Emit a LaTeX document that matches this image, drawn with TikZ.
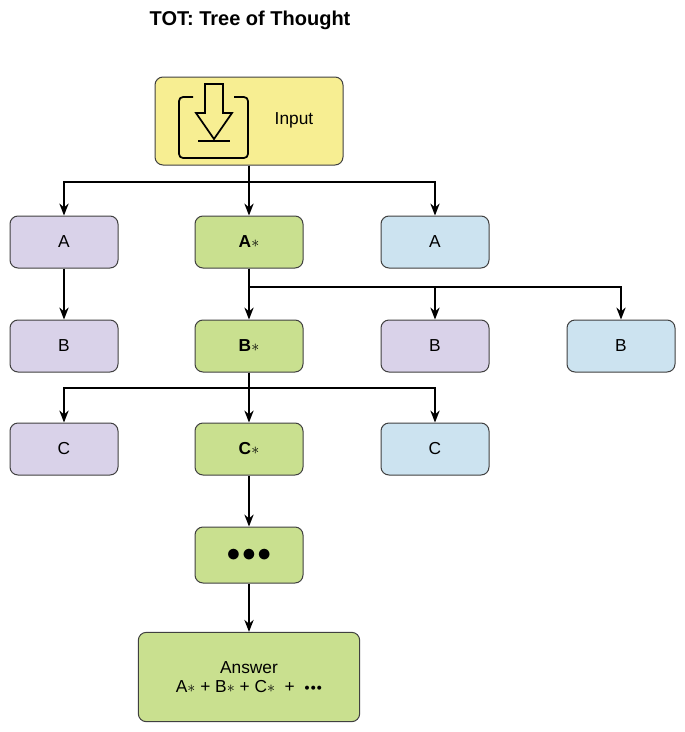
\documentclass[tikz,border=0pt]{standalone}
\usepackage{fontspec}
\setmainfont{Liberation Sans}
\usetikzlibrary{arrows.meta}
\definecolor{cyel}{RGB}{247,238,146}
\definecolor{cgrn}{RGB}{201,224,143}
\definecolor{cpur}{RGB}{217,210,233}
\definecolor{cblu}{RGB}{204,227,240}
\newcommand{\st}{\ensuremath{\ast}}
\tikzset{every picture/.style={line width=0.75pt}}
\tikzset{
  box/.style={draw=black!75, rounded corners=6pt, minimum width=81pt, minimum height=39pt, inner sep=0pt, font=\fontsize{13}{15}\selectfont},
  pur/.style={box, fill=cpur},
  grn/.style={box, fill=cgrn},
  blu/.style={box, fill=cblu},
  arr/.style={-{Stealth[length=9pt,width=7pt]}, line width=1pt}
}
\begin{document}
\begin{tikzpicture}[x=0.75pt,y=0.75pt,yscale=-1,xscale=1]
\useasboundingbox (0,0) rectangle (685,732);

% title
\node[font=\bfseries\fontsize{15}{17}\selectfont] (title) at (250,20) {TOT: Tree of Thought};

% input
\node[box, fill=cyel, minimum width=141pt, minimum height=66pt] (in) at (249,121) {};
\node[font=\fontsize{13}{15}\selectfont] (inlbl) at (294,120) {Input};
\draw[line width=1.3pt, rounded corners=3pt] (193,97) -- (179,97) -- (179,158) -- (248,158) -- (248,97) -- (234,97);
\draw[line width=1.3pt] (205,84) -- (223,84) -- (223,113) -- (232,113) -- (214,139) -- (196,113) -- (205,113) -- cycle;
\draw[line width=1.3pt] (198,141) -- (230,141);

% rows
\node[pur] (a1) at (64,242) {A};
\node[grn] (a2) at (249,242) {\textbf{A\st}};
\node[blu] (a3) at (435,242) {A};
\node[pur] (b1) at (64,346) {B};
\node[grn] (b2) at (249,346) {\textbf{B\st}};
\node[pur] (b3) at (435,346) {B};
\node[blu] (b4) at (621,346) {B};
\node[pur] (c1) at (64,449) {C};
\node[grn] (c2) at (249,449) {\textbf{C\st}};
\node[blu] (c3) at (435,449) {C};
\node[grn, minimum height=42pt] (dots) at (249,555) {\fontsize{20}{20}\selectfont$\bullet\!\bullet\!\bullet$};
\node[grn, minimum width=166pt, minimum height=67pt, align=center] (ans) at (249,677)
  {Answer\\[-1pt] A\st\ + B\st\ + C\st\ \ + \ \raisebox{1pt}{\scriptsize$\bullet\!\bullet\!\bullet$}};

% connectors
\draw[arr] (in) -- (a2);
\draw[arr] (in.south) -- (249,182) -| (a1);
\draw[arr] (in.south) -- (249,182) -| (a3);
\draw[arr] (a1) -- (b1);
\draw[arr] (a2) -- (b2);
\draw[arr] (a2.south) -- (249,287) -| (b3);
\draw[arr] (a2.south) -- (249,287) -| (b4);
\draw[arr] (b2) -- (c2);
\draw[arr] (b2.south) -- (249,388) -| (c1);
\draw[arr] (b2.south) -- (249,388) -| (c3);
\draw[arr] (c2) -- (dots);
\draw[arr] (dots) -- (ans);
\end{tikzpicture}
\end{document}
